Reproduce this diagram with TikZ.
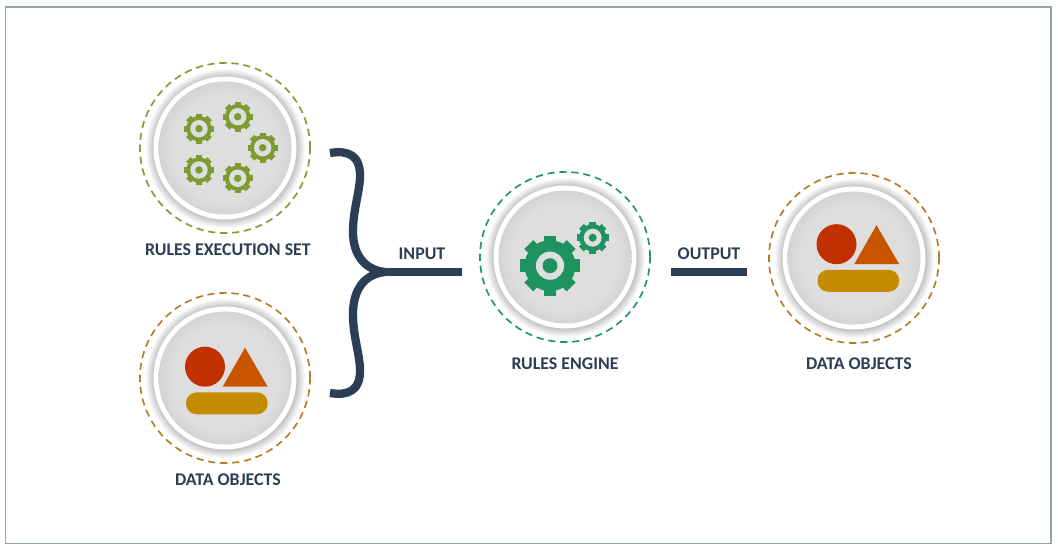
\documentclass[tikz,border=0pt]{standalone}
\usepackage{fontspec}
\setmainfont{Carlito}
\usetikzlibrary{calc}

\definecolor{inkblue}{HTML}{2C3E55}
\definecolor{frameline}{HTML}{8FA6A4}
\definecolor{olivegear}{HTML}{7F9A30}
\definecolor{greengear}{HTML}{1E9360}
\definecolor{dashbrown}{HTML}{B47A20}
\definecolor{discgray}{HTML}{DEDEDE}
\definecolor{dotred}{HTML}{C23000}
\definecolor{triorange}{HTML}{C85400}
\definecolor{pillyellow}{HTML}{C48A00}

\pgfdeclareradialshading{HALOFADE}{\pgfpoint{0bp}{0bp}}{color(0bp)=(black!24); color(22.3bp)=(black!24); color(25bp)=(white); color(50bp)=(white)}
\pgfdeclareradialshading{DISCFADE}{\pgfpoint{0bp}{0bp}}{color(0bp)=(discgray); color(20bp)=(discgray); color(25bp)=(black!17); color(50bp)=(black!17)}

\newcommand{\roundel}[3]{% name, position, dash colour
  \node[HALO] at (#2) {};
  \node[RING] at (#2) {};
  \node[DISC] (#1) at (#2) {};
  \node[DASHES,draw=#3] at (#2) {};
}
\newcommand{\gearicon}[5]{% x, y, outer radius, colour, ring ratio
  \begin{scope}[shift={(#1,#2)}]
  \foreach \tooth in {0,45,...,315}
    \draw[#4,line width=0.42*#3*0.75pt] (0,0) -- (\tooth:#3);
  \fill[#4] (0,0) circle [radius=#3*0.85];
  \fill[discgray] (0,0) circle [radius=#3*#5];
  \fill[#4] (0,0) circle [radius=#3*0.25];
  \end{scope}
}
\newcommand{\shapesicon}[2]{% x, y of the group
  \begin{scope}[shift={(#1,#2)}]
  \fill[dotred] (-20,-11.3) circle [radius=20];
  \fill[triorange] (20,-30.3) -- (42.7,8.7) -- (-2.3,8.7) -- cycle;
  \fill[pillyellow,rounded corners=8pt] (-39,14.3) rectangle (42.7,36.3);
  \end{scope}
}

\begin{document}
\begin{tikzpicture}[x=0.75pt,y=-0.75pt]
\tikzset{HALO/.style={circle,inner sep=0,minimum size=60pt*2,shading=HALOFADE}}
\tikzset{RING/.style={circle,inner sep=0,minimum size=53.6pt*2,fill=white}}
\tikzset{DISC/.style={circle,inner sep=0,minimum size=49.9pt*2,shading=DISCFADE}}
\tikzset{DASHES/.style={circle,inner sep=0,minimum size=63.8pt*2,line width=1.2pt,dash pattern=on 5.4pt off 3.6pt}}
\tikzset{LABEL/.style={font=\bfseries\fontsize{13.4}{15}\selectfont,text=inkblue,inner sep=0}}
\tikzset{BAR/.style={draw=inkblue,line width=6.2pt}}

\useasboundingbox (0,0) rectangle (1058,548);
\fill[white] (0,0) rectangle (1058,548);
\draw[frameline,line width=0.8pt] (5.5,7) rectangle (1051,543.5);

\roundel{rules set}{225,148}{olivegear}
\roundel{data in}{225,378}{dashbrown}
\roundel{engine}{565,257}{greengear}
\roundel{data out}{854,258}{dashbrown}

\gearicon{199}{128.7}{15}{olivegear}{0.58}
\gearicon{237.7}{116.7}{15}{olivegear}{0.58}
\gearicon{262.7}{147.7}{15}{olivegear}{0.58}
\gearicon{199}{170}{15}{olivegear}{0.58}
\gearicon{237.7}{178.3}{15}{olivegear}{0.58}
\gearicon{550}{265.7}{30}{greengear}{0.47}
\gearicon{592.7}{237.7}{16}{greengear}{0.56}

\shapesicon{225}{378}
\shapesicon{856.5}{255.5}

\node[LABEL] (rules label) at (228,250) {RULES EXECUTION SET};
\node[LABEL] (data in label) at (228,480) {DATA OBJECTS};
\node[LABEL] (engine label) at (565,364) {RULES ENGINE};
\node[LABEL] (data out label) at (859,364) {DATA OBJECTS};
\node[LABEL] (input) at (422,254) {INPUT};
\node[LABEL] (output) at (709,254) {OUTPUT};

\coordinate (brace top) at (330,153);
\coordinate (brace low) at (330,393);
\coordinate (brace tip) at (385,272);
\coordinate (input end) at (462,272);
\coordinate (output start) at (671,272);
\coordinate (output end) at (747,272);

\path[BAR] (brace top) .. controls (348,150) and (361,155) .. (360,178)
  .. controls (359,195) and (353,210) .. (353,232)
  .. controls (353,255) and (365,270) .. (brace tip);
\path[BAR] (brace low) .. controls (348,396) and (361,391) .. (360,368)
  .. controls (359,351) and (353,336) .. (353,314)
  .. controls (353,289) and (365,274) .. (brace tip);
\path[BAR] (brace tip) -- (input end);
\path[BAR] (output start) -- (output end);

\end{tikzpicture}
\end{document}
